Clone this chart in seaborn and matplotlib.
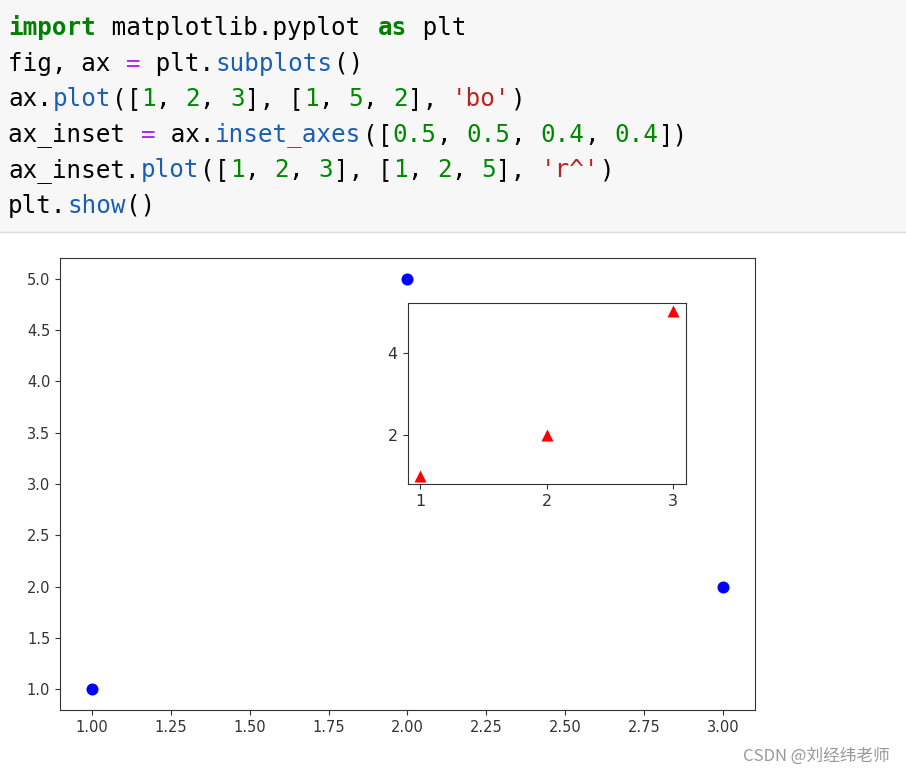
import matplotlib
matplotlib.use("Agg")
import matplotlib.pyplot as plt
import seaborn as sns
from matplotlib.patches import Rectangle

main_x = [1, 2, 3]
main_y = [1, 5, 2]
inset_x = [1, 2, 3]
inset_y = [1, 2, 5]

sns.set_style("ticks")
plt.rcParams['font.family'] = ['DejaVu Sans', 'Noto Sans CJK SC']

W, H = 906, 775
fig = plt.figure(figsize=(W/100, H/100), dpi=100)

# code panel
fig.patches.append(Rectangle((0, 1-232/H), 1, 232/H, transform=fig.transFigure,
                             facecolor='#f7f7f7', edgecolor='none', zorder=0))
fig.add_artist(plt.Line2D([0, 1], [1-232/H, 1-232/H], transform=fig.transFigure, color='#dddddd', lw=1))

K, B, P, N, S, T = '#008000', '#1a5fb4', '#aa22ff', '#008800', '#ba2121', '#000000'
lines = [
    [("import", K, 'bold'), (" matplotlib.pyplot ", T, 'normal'), ("as", K, 'bold'), (" plt", T, 'normal')],
    [("fig, ax ", T, 'normal'), ("=", P, 'normal'), (" plt.", T, 'normal'), ("subplots", B, 'normal'), ("()", T, 'normal')],
    [("ax.", T, 'normal'), ("plot", B, 'normal'), ("([", T, 'normal'), ("1", N, 'normal'), (", ", T, 'normal'), ("2", N, 'normal'),
     (", ", T, 'normal'), ("3", N, 'normal'), ("], [", T, 'normal'), ("1", N, 'normal'), (", ", T, 'normal'), ("5", N, 'normal'),
     (", ", T, 'normal'), ("2", N, 'normal'), ("], ", T, 'normal'), ("'bo'", S, 'normal'), (")", T, 'normal')],
    [("ax_inset ", T, 'normal'), ("=", P, 'normal'), (" ax.", T, 'normal'), ("inset_axes", B, 'normal'), ("([", T, 'normal'),
     ("0.5", N, 'normal'), (", ", T, 'normal'), ("0.5", N, 'normal'), (", ", T, 'normal'), ("0.4", N, 'normal'), (", ", T, 'normal'),
     ("0.4", N, 'normal'), ("])", T, 'normal')],
    [("ax_inset.", T, 'normal'), ("plot", B, 'normal'), ("([", T, 'normal'), ("1", N, 'normal'), (", ", T, 'normal'), ("2", N, 'normal'),
     (", ", T, 'normal'), ("3", N, 'normal'), ("], [", T, 'normal'), ("1", N, 'normal'), (", ", T, 'normal'), ("2", N, 'normal'),
     (", ", T, 'normal'), ("5", N, 'normal'), ("], ", T, 'normal'), ("'r^'", S, 'normal'), (")", T, 'normal')],
    [("plt.", T, 'normal'), ("show", B, 'normal'), ("()", T, 'normal')],
]
cw = 14.8
for i, toks in enumerate(lines):
    y = 28 + i * 35.6
    col = 0
    for txt, c, w in toks:
        fig.text((8 + col*cw)/W, 1 - y/H, txt, color=c, weight=w, family='DejaVu Sans Mono',
                 fontsize=17.5, va='center', ha='left')
        col += len(txt)

ax = fig.add_axes([60/W, 1-710/H, 695/W, 452/H])
sns.scatterplot(x=main_x, y=main_y, ax=ax, color='blue', marker='o', s=75, edgecolor='blue', linewidth=0)
ax.tick_params(labelsize=10.5, colors='#333333')
ax.set_ylim(0.8, 5.2)
ax.set_xlim(0.9, 3.1)
for sp in ax.spines.values():
    sp.set_color('#333333'); sp.set_visible(True)

ins = ax.inset_axes([0.5, 0.5, 0.4, 0.4])
sns.scatterplot(x=inset_x, y=inset_y, ax=ins, color='red', marker='^', s=75, edgecolor='red', linewidth=0)
ins.set_ylim(0.8, 5.2)
ins.set_xlim(0.9, 3.1)
ins.set_yticks([2, 4])
ins.set_xticks([1, 2, 3])
ins.tick_params(labelsize=11.5, colors='#333333')
for sp in ins.spines.values():
    sp.set_color('#333333'); sp.set_visible(True)

fig.text(890/W, 1-756/H, "CSDN @刘经纬老师", color='#999999', fontsize=12, ha='right', va='center',
         family=['Noto Sans CJK SC', 'DejaVu Sans'])

fig.savefig("out.png", dpi=100)
